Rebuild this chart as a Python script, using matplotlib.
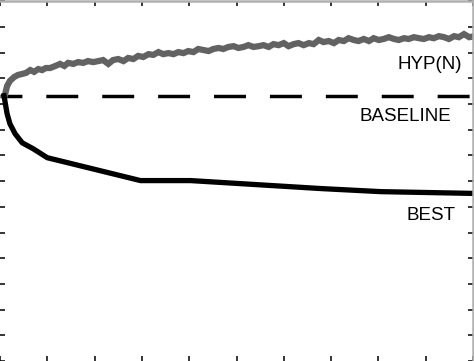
import matplotlib as mpl
mpl.use('Agg')
import matplotlib.pyplot as plt

# HYP(N) curve (grey, jagged)
hyp_x = [1.0, 1.5, 2.1, 3.0, 3.8, 4.7, 5.5, 6.4, 7.2, 8.1, 8.9, 9.7, 10.6, 11.7, 12.7, 13.6,
         14.4, 15.5, 16.5, 17.6, 18.6, 19.7, 20.8, 21.8, 22.9, 23.9, 25.0, 26.1, 27.1, 28.2,
         29.2, 30.3, 31.4, 32.4, 33.5, 34.5, 35.6, 36.7, 37.7, 38.8, 39.8, 40.9, 41.9, 43.0,
         44.1, 45.1, 46.2, 47.2, 48.3, 49.4, 50.4, 51.5, 52.5, 53.6, 54.7, 55.7, 56.8, 57.8,
         58.9, 60.0, 61.0, 62.1, 63.1, 64.2, 65.3, 66.3, 67.4, 68.4, 69.5, 70.6, 71.6, 72.7,
         73.7, 74.8, 75.8, 76.9, 78.0, 79.0, 80.1, 81.1, 82.2, 83.3, 84.3, 85.4, 86.4, 87.5,
         88.6, 89.6, 90.7, 91.7, 92.8, 93.9, 94.9, 96.0, 97.0, 98.1, 99.2, 100.4]
hyp_y = [1.032, 1.070, 1.090, 1.105, 1.113, 1.117, 1.121, 1.132, 1.125, 1.136, 1.132, 1.140,
         1.140, 1.148, 1.156, 1.148, 1.160, 1.156, 1.163, 1.160, 1.167, 1.163, 1.167, 1.171,
         1.156, 1.171, 1.175, 1.167, 1.179, 1.175, 1.187, 1.183, 1.194, 1.191, 1.202, 1.194,
         1.198, 1.194, 1.202, 1.198, 1.206, 1.202, 1.214, 1.210, 1.206, 1.214, 1.218, 1.214,
         1.222, 1.225, 1.218, 1.222, 1.229, 1.222, 1.225, 1.229, 1.222, 1.233, 1.229, 1.237,
         1.225, 1.233, 1.237, 1.229, 1.237, 1.233, 1.249, 1.241, 1.245, 1.237, 1.249, 1.245,
         1.256, 1.249, 1.245, 1.253, 1.245, 1.256, 1.249, 1.253, 1.260, 1.253, 1.249, 1.256,
         1.253, 1.260, 1.256, 1.253, 1.260, 1.256, 1.264, 1.260, 1.253, 1.264, 1.260, 1.272,
         1.260, 1.264]

# BEST curve (black)
best_x = [0.85, 1.5, 2.1, 3.2, 4.7, 7.0, 10.0, 29.7, 40.3, 67.8, 80.5, 100.4]
best_y = [1.032, 0.962, 0.923, 0.884, 0.849, 0.826, 0.791, 0.702, 0.702, 0.671, 0.659, 0.652]

# BASELINE (dashed)
base_x = [0, 100]
base_y = [1.032, 1.032]

plt.rcParams['font.family'] = ['Liberation Sans', 'DejaVu Sans']

fig = plt.figure(figsize=(4.74, 3.61), dpi=100)
ax = fig.add_axes([0, 0, 473/474., 1 - 1.2/361.])

ax.plot(base_x, base_y, color='black', lw=2.5, linestyle=(2.9, (9.2, 6.9)))
ax.plot(hyp_x, hyp_y, color='#626262', lw=4.5, solid_joinstyle='miter')
ax.plot(best_x, best_y, color='black', lw=3.8)

ax.text(90.8, 1.136, 'HYP(N)', fontsize=13.5, ha='center', va='baseline')
ax.text(85.8, 0.935, 'BASELINE', fontsize=13.5, ha='center', va='baseline')
ax.text(91.1, 0.547, 'BEST', fontsize=13.5, ha='center', va='baseline')

ax.set_xlim(0, 100)
ax.set_ylim(0, 1.4)
ax.set_xticks([i * 10 for i in range(11)])
ax.set_yticks([i * 0.1 for i in range(15)])
ax.tick_params(direction='in', length=3.6, width=1.1, top=True, right=True,
               labelleft=False, labelbottom=False)
for s in ['left', 'bottom']:
    ax.spines[s].set_visible(False)
for s in ['top', 'right']:
    ax.spines[s].set_color('#b0b0b0')
    ax.spines[s].set_linewidth(1.8)

plt.savefig('out.png', dpi=100)
